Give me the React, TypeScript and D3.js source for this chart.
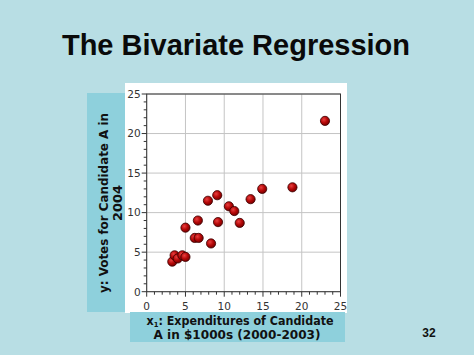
import React from "react";
import * as d3 from "d3";

const xValues = [23.0, 18.8, 14.9, 13.4, 9.1, 7.9, 10.6, 11.3, 12.0, 9.2, 6.6, 5.0, 6.2, 6.7, 8.3, 3.3, 3.6, 4.0, 4.6, 5.0];
const yValues = [21.6, 13.2, 13.0, 11.7, 12.2, 11.5, 10.8, 10.2, 8.7, 8.8, 9.0, 8.1, 6.8, 6.8, 6.1, 3.8, 4.6, 4.2, 4.6, 4.4];
const xTicks = [0, 5, 10, 15, 20, 25];
const yTicks = [0, 5, 10, 15, 20, 25];
const minorTicks = d3.range(0, 26, 1);
const title = "The Bivariate Regression";
const yLabelLines = ["y: Votes for Candidate A in", "2004"];
const xLabelLine2 = "A in $1000s (2000-2003)";
const pageNumber = "32";

export default function App() {
  const W = 474, H = 355;
  const left = 146.7, right = 340.5, top = 94, bottom = 291.7;
  const x = d3.scaleLinear().domain([0, 25]).range([left, right]);
  const y = d3.scaleLinear().domain([0, 25]).range([bottom, top]);
  const bg = "#b8dee4";
  const boxC = "#8ed0dc";
  const font = "'DejaVu Sans', Verdana, sans-serif";
  return (
    <svg width={W} height={H} style={{ position: "absolute", left: 0, top: 0 }} xmlns="http://www.w3.org/2000/svg">
      <defs>
        <radialGradient id="ball" cx="38%" cy="35%" r="65%">
          <stop offset="0%" stopColor="#e84040" />
          <stop offset="55%" stopColor="#b50808" />
          <stop offset="100%" stopColor="#7a0000" />
        </radialGradient>
      </defs>
      <rect x={0} y={0} width={W} height={H} fill={bg} />
      <text x={236} y={55} textAnchor="middle" fontFamily="'Liberation Sans', Arial, sans-serif" fontWeight="bold" fontSize={29} fill="#0a0a0a">{title}</text>
      {/* white panel */}
      <rect x={125} y={83} width={222} height={230} fill="#ffffff" />
      {/* y label box */}
      <rect x={87} y={93} width={38} height={219} fill={boxC} />
      <g transform={`translate(106,203) rotate(-90)`}>
        <text x={0} y={2} textAnchor="middle" fontFamily={font} fontWeight="bold" fontSize={12.5} fill="#111" textLength={180} lengthAdjust="spacingAndGlyphs">{yLabelLines[0]}</text>
        <text x={0} y={16} textAnchor="middle" fontFamily={font} fontWeight="bold" fontSize={12.5} fill="#111" textLength={36} lengthAdjust="spacingAndGlyphs">{yLabelLines[1]}</text>
      </g>
      {/* x label box */}
      <rect x={130} y={312} width={215} height={30} fill={boxC} />
      <text x={240} y={325} textAnchor="middle" fontFamily={font} fontWeight="bold" fontSize={11.5} fill="#111" textLength={187} lengthAdjust="spacingAndGlyphs">
        x<tspan fontSize={7} dy={2}>1</tspan><tspan dy={-2}>: Expenditures of Candidate</tspan>
      </text>
      <text x={237} y={339} textAnchor="middle" fontFamily={font} fontWeight="bold" fontSize={11.5} fill="#111" textLength={167} lengthAdjust="spacingAndGlyphs">{xLabelLine2}</text>
      {/* grid */}
      {xTicks.map((t) => (
        <line key={"gx" + t} x1={x(t)} x2={x(t)} y1={top} y2={bottom} stroke="#c4c4c4" strokeWidth={1} />
      ))}
      {yTicks.map((t) => (
        <line key={"gy" + t} x1={left} x2={right} y1={y(t)} y2={y(t)} stroke="#c4c4c4" strokeWidth={1} />
      ))}
      {/* frame */}
      <rect x={left} y={top} width={right - left} height={bottom - top} fill="none" stroke="#333" strokeWidth={1} />
      {/* ticks */}
      {minorTicks.map((t) => {
        const major = t % 5 === 0;
        const len = major ? 5 : 3;
        return (
          <g key={"t" + t}>
            <line x1={left - len} x2={left} y1={y(t)} y2={y(t)} stroke="#333" strokeWidth={1} />
            <line x1={x(t)} x2={x(t)} y1={bottom} y2={bottom + len} stroke="#333" strokeWidth={1} />
          </g>
        );
      })}
      {yTicks.map((t) => (
        <text key={"ly" + t} x={left - 6} y={y(t) + 3.8} textAnchor="end" fontFamily={font} fontSize={10.5} fill="#333">{t}</text>
      ))}
      {xTicks.map((t) => (
        <text key={"lx" + t} x={x(t)} y={310} textAnchor="middle" fontFamily={font} fontSize={10.5} fill="#333">{t}</text>
      ))}
      {/* points */}
      {xValues.map((v, i) => (
        <circle key={"p" + i} cx={x(v)} cy={y(yValues[i])} r={4.6} fill="url(#ball)" stroke="#3a0000" strokeWidth={0.8} />
      ))}
      <text x={429} y={337} textAnchor="middle" fontFamily="'Liberation Sans', Arial, sans-serif" fontWeight="bold" fontSize={12} fill="#111">{pageNumber}</text>
    </svg>
  );
}
